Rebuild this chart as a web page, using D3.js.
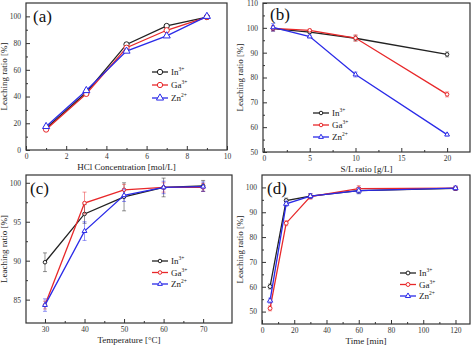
<!DOCTYPE html>
<html><head><meta charset="utf-8">
<script src="https://cdn.jsdelivr.net/npm/d3@7"></script>
<style>
html,body{margin:0;padding:0;background:#fff;}
svg{display:block;font-family:"Liberation Serif","DejaVu Serif",serif;}
</style></head>
<body><svg id="c" width="474" height="345"></svg>
<script>
// ---- data ----
const ions = ["In", "Ga", "Zn"];
const ionCharges = ["3+", "3+", "2+"];
const colors = ["#222222", "#e8282a", "#2a2ae8"];

// (a) HCl concentration
const aX = [1, 3, 5, 7, 9];
const aIn = [16.3, 43, 79, 92.8, 99.5];
const aGa = [15.3, 42, 76.5, 89.6, 99.5];
const aZn = [17.6, 44.5, 74, 85.4, 100];
const aErr = [0.8, 0.8, 0.8, 0.8, 0.8];
const aXTicks = [0, 2, 4, 6, 8, 10];
const aYTicks = [0, 20, 40, 60, 80, 100];

// (b) S/L ratio
const bX = [1, 5, 10, 20];
const bIn = [99.7, 98.3, 95.8, 89.3];
const bGa = [99.8, 99.0, 95.9, 73.2];
const bZn = [100.2, 96.5, 81.2, 57.0];
const bErrIn = [1, 0.5, 1, 1];
const bErrGa = [1, 0.5, 1.3, 1];
const bErrZn = [1.5, 0.5, 1, 0.5];
const bXTicks = [0, 5, 10, 15, 20];
const bYTicks = [50, 60, 70, 80, 90, 100, 110];

// (c) temperature
const cX = [30, 40, 50, 60, 70];
const cIn = [89.8, 96.0, 98.2, 99.4, 99.6];
const cGa = [84.3, 97.4, 99.1, 99.4, 99.4];
const cZn = [84.3, 93.8, 98.4, 99.4, 99.5];
const cErrIn = [1.2, 1.2, 1.8, 1.2, 0.7];
const cErrGa = [0.5, 1.4, 0.7, 0.6, 0.5];
const cErrZn = [0.8, 1.2, 0.8, 0.8, 0.6];
const cXTicks = [30, 40, 50, 60, 70];
const cYTicks = [85, 90, 95, 100];

// (d) time
const dX = [5, 15, 30, 60, 120];
const dIn = [60.1, 94.7, 96.5, 98.7, 99.6];
const dGa = [51.3, 85.6, 96.3, 99.5, 99.7];
const dZn = [54.4, 93.4, 96.5, 98.7, 99.7];
const dErr = [1, 1, 1, 1.2, 0.8];
const dXTicks = [0, 20, 40, 60, 80, 100, 120];
const dYTicks = [50, 60, 70, 80, 90, 100];

const svg = d3.select("#c");

function panel(cfg) {
  const g = svg.append("g");
  const x = d3.scaleLinear().domain(cfg.xd).range([cfg.l, cfg.r]);
  const y = d3.scaleLinear().domain(cfg.yd).range([cfg.b, cfg.t]);
  g.append("rect").attr("x", cfg.l).attr("y", cfg.t)
    .attr("width", cfg.r - cfg.l).attr("height", cfg.b - cfg.t)
    .attr("fill", "none").attr("stroke", "#333").attr("stroke-width", 1.2);
  const xa = g.append("g").attr("transform", `translate(0,${cfg.b})`)
    .call(d3.axisBottom(x).tickValues(cfg.xt).tickSizeInner(-4).tickSizeOuter(0).tickPadding(4));
  const xm = g.append("g").attr("transform", `translate(0,${cfg.b})`)
    .call(d3.axisBottom(x).tickValues(cfg.xt.slice(0, -1).map((v, i) => (v + cfg.xt[i + 1]) / 2)).tickSize(-2).tickFormat(""));
  const ya = g.append("g").attr("transform", `translate(${cfg.l},0)`)
    .call(d3.axisLeft(y).tickValues(cfg.yt).tickSizeInner(-4).tickSizeOuter(0).tickPadding(5));
  const ym = g.append("g").attr("transform", `translate(${cfg.l},0)`)
    .call(d3.axisLeft(y).tickValues(cfg.yt.slice(0, -1).map((v, i) => (v + cfg.yt[i + 1]) / 2)).tickSize(-2).tickFormat(""));
  [xa, xm, ya, ym].forEach(a => {
    a.select(".domain").remove();
    a.selectAll("line").attr("stroke", "#333");
    a.selectAll("text").attr("font-family", "Liberation Serif").attr("font-size", 7.5).attr("fill", "#333");
  });
  g.append("text").attr("x", (cfg.l + cfg.r) / 2).attr("y", cfg.b + 19.5)
    .attr("text-anchor", "middle").attr("font-size", 9).attr("fill", "#222").text(cfg.xl);
  g.append("text").attr("transform", `translate(${cfg.yl},${(cfg.t + cfg.b) / 2}) rotate(-90)`)
    .attr("text-anchor", "middle").attr("font-size", 9).attr("fill", "#222").text("Leaching ratio [%]");
  g.append("text").attr("x", cfg.px).attr("y", cfg.py).attr("font-size", 17).attr("fill", "#111").text(cfg.label);

  const clipId = "clip" + cfg.label.replace(/\W/g, "");
  svg.append("clipPath").attr("id", clipId).append("rect")
    .attr("x", cfg.l).attr("y", cfg.t).attr("width", cfg.r - cfg.l).attr("height", cfg.b - cfg.t);
  const pg = g.append("g").attr("clip-path", `url(#${clipId})`);

  cfg.series.forEach((s, si) => {
    const pts = cfg.xs.map((xv, i) => ({x: xv, y: s[i], e: cfg.errs[si][i]}));
    const col = colors[si];
    pg.selectAll(null).data(pts).enter().append("path")
      .attr("d", d => `M${x(d.x)},${y(d.y - d.e)}V${y(d.y + d.e)}M${x(d.x) - 2},${y(d.y - d.e)}h4M${x(d.x) - 2},${y(d.y + d.e)}h4`)
      .attr("stroke", col).attr("stroke-width", 0.7).attr("fill", "none").attr("opacity", 0.7);
    pg.append("path").datum(pts)
      .attr("d", d3.line().x(d => x(d.x)).y(d => y(d.y)))
      .attr("fill", "none").attr("stroke", col).attr("stroke-width", 1.3);
    const sym = d3.symbol().type(si === 2 ? d3.symbolTriangle : d3.symbolCircle).size(cfg.ms);
    pg.selectAll(null).data(pts).enter().append("path")
      .attr("transform", d => `translate(${x(d.x)},${y(d.y)})`)
      .attr("d", sym).attr("fill", "#fff").attr("stroke", col).attr("stroke-width", 1);
  });

  ions.forEach((ion, i) => {
    const yy = cfg.lg[1] + i * cfg.lg[2];
    const x0 = cfg.lg[0], x1 = cfg.lg[0] + 16;
    g.append("line").attr("x1", x0).attr("x2", x1).attr("y1", yy).attr("y2", yy)
      .attr("stroke", colors[i]).attr("stroke-width", 1.3);
    const sym = d3.symbol().type(i === 2 ? d3.symbolTriangle : d3.symbolCircle).size(cfg.ms);
    g.append("path").attr("transform", `translate(${(x0 + x1) / 2},${yy})`).attr("d", sym)
      .attr("fill", "#fff").attr("stroke", colors[i]).attr("stroke-width", 1);
    const t = g.append("text").attr("x", x1 + 3).attr("y", yy + 3).attr("font-size", 9).attr("fill", "#222");
    t.append("tspan").text(ion);
    t.append("tspan").attr("dy", -4).attr("font-size", 5.5).text(ionCharges[i]);
  });
}

panel({l: 26, r: 227, t: 3, b: 150, xd: [0, 10], yd: [0, 110], xt: aXTicks, yt: aYTicks,
  xl: "HCl Concentration [mol/L]", yl: 7, label: "(a)", px: 33, py: 22, ms: 22,
  xs: aX, series: [aIn, aGa, aZn], errs: [aErr, aErr, aErr], lg: [152, 72, 13]});
panel({l: 263, r: 470, t: 3, b: 152, xd: [-0.1, 22.5], yd: [50, 110], xt: bXTicks, yt: bYTicks,
  xl: "S/L ratio [g/L]", yl: 243, label: "(b)", px: 270, py: 20, ms: 10,
  xs: bX, series: [bIn, bGa, bZn], errs: [bErrIn, bErrGa, bErrZn], lg: [313, 113, 12]});
panel({l: 26, r: 232, t: 175, b: 323, xd: [25.2, 77.3], yd: [82, 101], xt: cXTicks, yt: cYTicks,
  xl: "Temperature [°C]", yl: 7, label: "(c)", px: 30, py: 194, ms: 10,
  xs: cX, series: [cIn, cGa, cZn], errs: [cErrIn, cErrGa, cErrZn], lg: [152, 261, 11.5]});
panel({l: 262, r: 470, t: 175, b: 324, xd: [0, 129], yd: [45, 105], xt: dXTicks, yt: dYTicks,
  xl: "Time [min]", yl: 243, label: "(d)", px: 267, py: 194, ms: 12,
  xs: dX, series: [dIn, dGa, dZn], errs: [dErr, dErr, dErr], lg: [400, 273, 11.5]});
</script></body></html>
